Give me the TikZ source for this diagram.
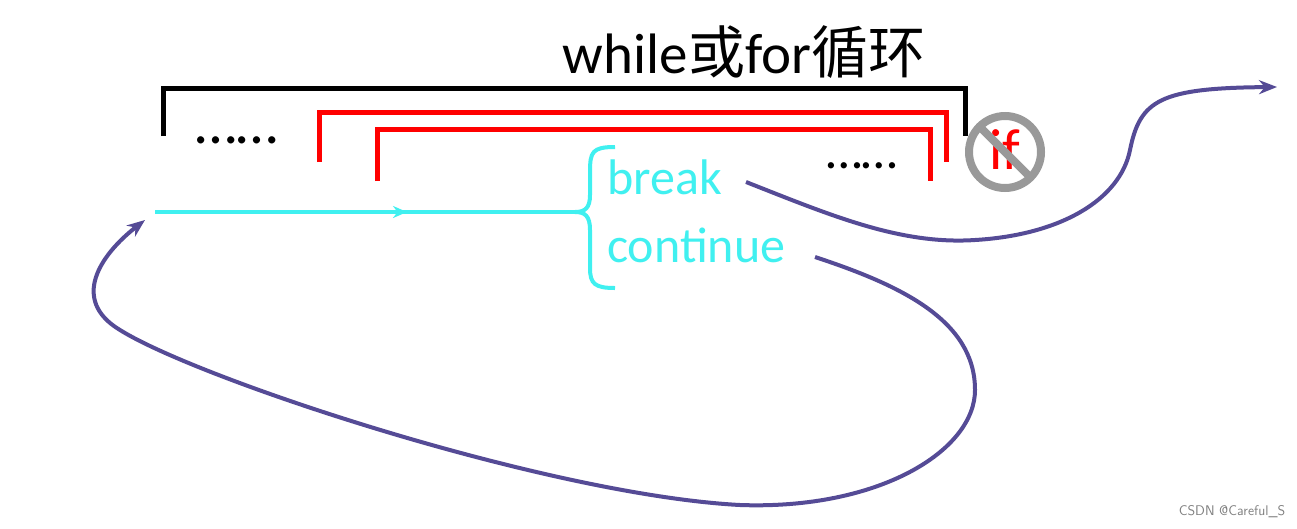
\documentclass[tikz,border=0pt]{standalone}
\usepackage{fontspec}
\setmainfont{Carlito}
\newfontfamily\cjk{Noto Sans CJK SC}
\usetikzlibrary{arrows.meta,decorations.markings}
\definecolor{cy}{RGB}{64,240,240}
\definecolor{pu}{RGB}{85,75,150}
\begin{document}
\begin{tikzpicture}[x=1pt,y=-1pt,
  brk/.style={line width=5pt},
  txt/.style={inner sep=0pt,anchor=center},
  curve/.style={pu,line width=4pt,-{Stealth[length=18pt,width=14pt]}}]
\useasboundingbox[fill=white] (0,0) rectangle (1297,528);
\node[txt,font=\fontsize{57}{60}\selectfont] (title) at (744,52) {while\cjk 或\normalfont for\cjk 循环};
\draw[brk,black] (163,136) -- (163,88) -- (965,88) -- (965,136);
\draw[brk,red] (319,162) -- (319,112) -- (946,112) -- (946,162);
\draw[brk,red] (377,181) -- (377,129) -- (930,129) -- (930,181);
\node[txt,anchor=base,font=\fontsize{60}{60}\selectfont] (d1) at (237,143) {……};
\node[txt,anchor=base,font=\fontsize{52}{52}\selectfont] (d2) at (862,168) {……};
\node[txt,red,font=\fontsize{58}{58}\selectfont] (if) at (1005,150) {if};
\draw[gray!80,line width=8pt] (1005,152) circle (36);
\draw[gray!80,line width=8pt] (980,127) -- (1030,177);
\coordinate (s) at (155,212);
\coordinate (m) at (575,212);
\draw[cy,line width=4pt,decoration={markings,mark=at position 0.6 with {\arrow{Stealth[length=14pt,width=12pt]}}},postaction={decorate}] (s) -- (m);
\draw[cy,line width=4pt] (615,147) .. controls (592,147) and (590,152) .. (590,172) -- (590,195) .. controls (590,208) and (585,212) .. (m)
  .. controls (585,212) and (590,216) .. (590,230) -- (590,268) .. controls (590,284) and (595,288) .. (615,288);
\node[txt,cy,font=\fontsize{50}{50}\selectfont,anchor=west] (brk) at (607,177) {break};
\node[txt,cy,font=\fontsize{50}{50}\selectfont,anchor=west] (cont) at (607,245) {continue};
\coordinate (b0) at (746,182);
\coordinate (b1) at (1277,87);
\draw[curve] (b0) .. controls (830,215) and (900,245) .. (975,240)
  .. controls (1060,235) and (1120,200) .. (1130,150)
  .. controls (1140,100) and (1160,88) .. (b1);
\coordinate (c0) at (815,257);
\coordinate (c1) at (145,220);
\draw[curve] (c0) .. controls (900,285) and (975,320) .. (975,390)
  .. controls (975,450) and (880,510) .. (740,505)
  .. controls (550,495) and (200,380) .. (120,330)
  .. controls (70,300) and (100,255) .. (c1);
\node[txt,gray,font=\fontsize{14}{14}\selectfont\sffamily] (wm) at (1232,512) {CSDN @Careful\_S};
\end{tikzpicture}
\end{document}
